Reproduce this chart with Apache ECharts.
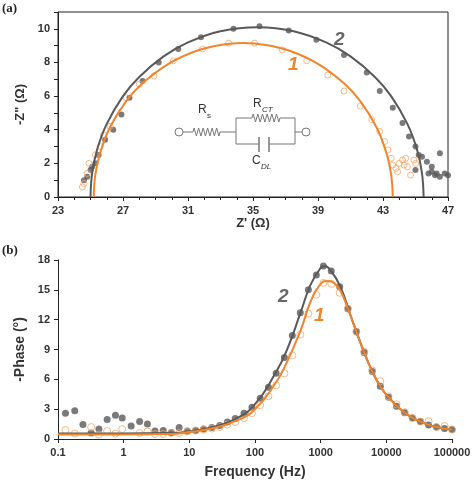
<!DOCTYPE html><html><head><meta charset="utf-8"><script src="https://cdn.jsdelivr.net/npm/echarts@6/dist/echarts.min.js"></script>
<style>body{margin:0}#c{width:474px;height:486px}</style></head><body><div id="c"></div><script>
const nyqFit2=[[25.0,0],[25.1,1.41],[25.4,2.8],[26,4.35],[27,6.0],[28,7.14],[29.5,8.36],[31,9.19],[33,9.86],[35.3,10.1],[37.5,9.86],[39.5,9.19],[41,8.36],[42.5,7.14],[43.5,6.0],[44.5,4.35],[45.1,2.8],[45.4,1.41],[45.5,0]];
const nyqFit1=[[25.2,0],[25.3,1.35],[25.6,2.65],[26.2,4.15],[27.2,5.7],[28.2,6.76],[29.8,7.92],[31.5,8.68],[33,9.04],[34.4,9.15],[35.8,9.04],[37.3,8.68],[39,7.92],[40.6,6.76],[41.6,5.7],[42.6,4.15],[43.2,2.65],[43.5,1.35],[43.6,0]];
const nyqData2=[[24.6,1.0],[24.8,1.2],[25.0,1.6],[25.1,1.8],[25.3,2.0],[25.5,2.5],[25.9,3.4],[26.4,4.0],[26.9,4.9],[27.4,5.9],[28.2,6.9],[29.2,8.0],[30.4,8.8],[31.8,9.5],[33.8,10.0],[35.4,10.15],[37.2,9.9],[38.9,9.35],[40.6,8.45],[42,7.4],[42.8,6.3],[43.6,5.3],[44.2,4.4],[44.6,3.6],[45.0,3.0],[45.2,2.5],[45.0,1.6],[45.4,2.4],[45.7,2.1],[46.0,1.8],[46.0,1.5],[46.2,1.3],[46.5,1.2],[46.3,1.4],[46.5,2.6],[46.8,1.4],[47,1.3],[45.8,1.4]];
const nyqData1=[[24.5,0.6],[24.6,0.8],[24.8,1.4],[24.9,2],[25.3,2.5],[25.6,3.0],[25.8,3.7],[26.2,4.2],[27.2,5.9],[28.0,6.7],[28.9,7.2],[30.1,8.1],[31.9,8.8],[33.5,9.15],[35.1,9.15],[36.8,8.75],[38.3,8.1],[39.6,7.25],[40.6,6.3],[41.6,5.4],[42.3,4.6],[42.8,3.9],[43.1,3.3],[43.3,2.8],[43.5,2.3],[43.6,1.9],[43.8,1.7],[44.0,2.0],[44.2,2.2],[44.4,2.3],[44.5,1.8],[44.7,1.3],[44.9,2.2],[45.0,2.0],[43.9,1.5],[44.3,1.9]];
const bodeData2=[[0.13,2.6],[0.18,2.85],[0.24,1.45],[0.32,0.6],[0.42,1.0],[0.56,1.95],[0.75,2.4],[0.95,2.1],[1.3,1.3],[1.75,1.75],[2.3,1.5],[3.0,0.8],[4.0,0.85],[5.3,0.65],[7,1.15],[9.3,0.8],[12.5,0.85],[16.5,1.0],[22,1.15],[29,1.35],[38,1.7],[50,2.05],[68,2.6],[90,3.2],[120,4.1],[160,5.2],[210,6.6],[280,8.2],[370,10.4],[490,12.7],[650,15.0],[860,16.5],[1100,17.4],[1450,16.9],[1950,15.3],[2600,13.1],[3500,10.8],[4600,8.7],[6100,6.8],[8100,5.3],[10800,4.2],[14300,3.3],[19000,2.65],[25000,2.1],[33000,1.75],[44000,1.4],[58000,1.2],[77000,1.05],[100000,0.95]];
const bodeData1=[[0.13,0.9],[0.18,0.55],[0.32,1.2],[0.42,0.45],[0.56,0.8],[0.75,0.55],[0.95,1.0],[1.75,0.6],[2.3,0.75],[3,0.5],[4,0.5],[5.3,0.6],[7,0.6],[9.3,0.75],[12.5,0.85],[16.5,0.95],[22,1.05],[29,1.2],[38,1.45],[50,1.7],[68,2.1],[90,2.6],[120,3.4],[160,4.3],[210,5.4],[280,6.6],[370,8.4],[490,10.5],[650,12.6],[860,14.5],[1100,15.7],[1450,15.6],[1950,14.7],[2600,13.1],[3500,10.8],[4600,8.8],[6100,6.9],[8100,5.8],[10800,4.3],[14300,3.5],[19000,2.7],[25000,2.1],[33000,1.75],[44000,1.8],[58000,1.2],[77000,1.3],[100000,0.95]];
const bodeFit2=[[0.1,0.55],[1,0.55],[5,0.6],[10,0.75],[20,1.1],[50,2.0],[100,3.5],[200,6.5],[300,8.8],[500,12.8],[700,15.5],[1000,17.2],[1150,17.4],[1400,17.0],[2000,15.3],[3000,12.0],[4600,8.7],[6100,6.8],[8100,5.3],[10800,4.2],[19000,2.65],[33000,1.75],[58000,1.2],[100000,0.95]];
const bodeFit1=[[0.1,0.45],[1,0.45],[5,0.5],[10,0.7],[20,1.0],[50,1.8],[100,3.0],[200,5.5],[300,7.6],[500,11],[700,13.8],[1000,15.6],[1300,15.9],[1600,15.7],[2000,14.9],[2600,13.1],[3500,10.8],[4600,8.7],[6100,6.8],[8100,5.3],[10800,4.2],[19000,2.65],[33000,1.75],[58000,1.2],[100000,0.95]];
const GRAY='#595959',OR='#f0852d',TXT='#333';
const lab={color:TXT,fontFamily:'Liberation Sans',fontWeight:'bold',fontSize:11};
const nameSt={color:TXT,fontFamily:'Liberation Sans',fontWeight:'bold',fontSize:13};
const ax={lineStyle:{color:'#222'}};
const c=echarts.init(document.getElementById('c'));
function res(x0,x1,y){const p=[];const n=6,w=(x1-x0)/n;p.push([x0,y]);for(let i=0;i<n;i++){p.push([x0+w*(i+0.25),y-4]);p.push([x0+w*(i+0.75),y+4]);}p.push([x1,y]);return p;}
c.setOption({animation:false,
grid:[{left:58,right:26,top:12,bottom:289,show:true,borderColor:'#222',borderWidth:1},{left:58,right:22,top:260,bottom:47}],
xAxis:[{gridIndex:0,type:'value',min:23,max:47,interval:4,name:"Z' (Ω)",nameLocation:'middle',nameGap:20,nameTextStyle:nameSt,axisLabel:lab,axisLine:ax,axisTick:{show:true,lineStyle:{color:'#222'},length:4},minorTick:{show:true,splitNumber:4,length:3,lineStyle:{color:'#222'}},splitLine:{show:false}},
{gridIndex:1,type:'log',min:0.1,max:100000,logBase:10,name:'Frequency (Hz)',nameLocation:'middle',nameGap:26,nameTextStyle:{...nameSt,fontSize:14},axisLabel:{...lab,formatter:v=>String(v)},axisLine:ax,axisTick:{lineStyle:{color:'#222'},length:4},minorTick:{show:false},splitLine:{show:false}}],
yAxis:[{gridIndex:0,type:'value',min:0,max:11,interval:1,name:'-Z" (Ω)',nameLocation:'middle',nameGap:28,nameTextStyle:nameSt,axisLabel:{...lab,formatter:v=>v%2===0?v:''},axisLine:ax,axisTick:{lineStyle:{color:'#222'},length:4},splitLine:{show:false}},
{gridIndex:1,type:'value',min:0,max:18,interval:3,name:'-Phase (°)',nameLocation:'middle',nameGap:28,nameTextStyle:{...nameSt,fontSize:14},axisLabel:lab,axisLine:{show:true,...ax},axisTick:{show:true,lineStyle:{color:'#222'},length:4},splitLine:{show:false}}],
series:[
{type:'line',xAxisIndex:0,yAxisIndex:0,data:nyqFit2,smooth:0.4,showSymbol:false,lineStyle:{color:GRAY,width:2}},
{type:'line',xAxisIndex:0,yAxisIndex:0,data:nyqFit1,smooth:0.4,showSymbol:false,lineStyle:{color:OR,width:2}},
{type:'scatter',xAxisIndex:0,yAxisIndex:0,data:nyqData2,symbolSize:6,itemStyle:{color:GRAY}},
{type:'scatter',xAxisIndex:0,yAxisIndex:0,data:nyqData1,symbolSize:6,itemStyle:{color:'none',borderColor:'#f4a66a',borderWidth:1}},
{type:'line',xAxisIndex:1,yAxisIndex:1,data:bodeFit2,smooth:true,showSymbol:false,lineStyle:{color:GRAY,width:2}},
{type:'line',xAxisIndex:1,yAxisIndex:1,data:bodeFit1,smooth:true,showSymbol:false,lineStyle:{color:OR,width:2}},
{type:'scatter',xAxisIndex:1,yAxisIndex:1,data:bodeData2,symbolSize:7,itemStyle:{color:GRAY}},
{type:'scatter',xAxisIndex:1,yAxisIndex:1,data:bodeData1,symbolSize:7,itemStyle:{color:'none',borderColor:'#f4a66a',borderWidth:1}}],
graphic:[
{type:'text',left:2,top:2,style:{text:'(a)',font:'bold 13px Liberation Serif',fill:'#222'}},
{type:'text',left:2,top:244,style:{text:'(b)',font:'bold 13px Liberation Serif',fill:'#222'}},
{type:'text',left:334,top:30,style:{text:'2',font:'italic bold 19px Liberation Sans',fill:'#666'}},
{type:'text',left:288,top:55,style:{text:'1',font:'italic bold 19px Liberation Sans',fill:OR}},
{type:'text',left:278,top:287,style:{text:'2',font:'italic bold 19px Liberation Sans',fill:'#666'}},
{type:'text',left:314,top:306,style:{text:'1',font:'italic bold 19px Liberation Sans',fill:OR}},
{type:'circle',shape:{cx:179,cy:132,r:4},style:{fill:'#fff',stroke:'#777'}},
{type:'circle',shape:{cx:306,cy:132,r:4},style:{fill:'#fff',stroke:'#777'}},
{type:'polyline',shape:{points:[[183,132],[193,132]]},style:{stroke:'#777'}},
{type:'polyline',shape:{points:res(193,220,132)},style:{stroke:'#777',fill:null}},
{type:'polyline',shape:{points:[[220,132],[236,132]]},style:{stroke:'#777'}},
{type:'polyline',shape:{points:[[252,118],[236,118],[236,144],[259,144]]},style:{stroke:'#777',fill:null}},
{type:'polyline',shape:{points:res(252,280,118)},style:{stroke:'#777',fill:null}},
{type:'polyline',shape:{points:[[280,118],[295,118],[295,144],[269,144]]},style:{stroke:'#777',fill:null}},
{type:'polyline',shape:{points:[[295,132],[302,132]]},style:{stroke:'#777'}},
{type:'line',shape:{x1:259,y1:137,x2:259,y2:152},style:{stroke:'#777',lineWidth:1.5}},
{type:'line',shape:{x1:269,y1:137,x2:269,y2:152},style:{stroke:'#777',lineWidth:1.5}},
{type:'text',left:198,top:104,style:{text:'R',font:'12px Liberation Sans',fill:'#333'}},
{type:'text',left:207,top:112,style:{text:'s',font:'8px Liberation Sans',fill:'#333'}},
{type:'text',left:253,top:98,style:{text:'R',font:'12px Liberation Sans',fill:'#333'}},
{type:'text',left:262,top:106,style:{text:'CT',font:'italic 8px Liberation Sans',fill:'#333'}},
{type:'text',left:252,top:155,style:{text:'C',font:'12px Liberation Sans',fill:'#333'}},
{type:'text',left:261,top:163,style:{text:'DL',font:'italic 8px Liberation Sans',fill:'#333'}}
]});
</script></body></html>
